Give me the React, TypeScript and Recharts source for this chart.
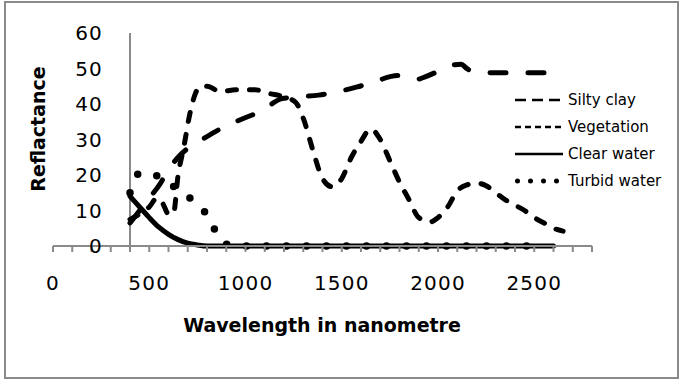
import { Label, Legend, Line, LineChart, ReferenceLine, XAxis, YAxis } from "recharts";

// wavelengths (nm) and reflectance (%)
const siltyClayNm = [400, 450, 500, 550, 600, 650, 700, 760, 870, 970, 1080, 1190, 1270, 1380, 1480, 1580, 1680, 1790, 1840, 1880, 1930, 1980, 2030, 2080, 2120, 2150, 2190, 2300, 2400, 2500, 2590];
const siltyClayRefl = [6.5, 10, 13.5, 17, 21.5, 25, 27.5, 29.5, 33, 35.5, 38, 41.5, 42, 42.5, 43.5, 44.8, 46.5, 48, 47.3, 46.8, 47.6, 48.7, 50, 51, 51.2, 50, 49, 48.8, 48.8, 48.8, 48.8];

const vegetationNm = [400, 450, 500, 540, 570, 600, 625, 650, 680, 710, 740, 770, 800, 870, 950, 1050, 1120, 1200, 1260, 1300, 1350, 1400, 1450, 1500, 1550, 1600, 1650, 1700, 1750, 1800, 1850, 1900, 1960, 2000, 2050, 2100, 2150, 2200, 2250, 2300, 2350, 2400, 2450, 2500, 2550, 2600, 2650];
const vegetationRefl = [7.5, 9, 11, 13.5, 12, 9, 9, 20, 28, 37, 43, 45, 45, 43.5, 44, 44, 43, 42, 40.5, 36, 27, 19, 16.7, 19, 25, 29.5, 33, 30, 24, 18, 13, 8, 6.8, 8, 11, 15.5, 17.2, 17.7, 17, 15, 13, 11.5, 10, 8, 6.5, 5, 4.2];

const clearWaterNm = [400, 450, 500, 550, 600, 650, 700, 750, 800, 900, 1200, 1600, 2000, 2400, 2600];
const clearWaterRefl = [14, 11, 8, 5.3, 3.3, 1.8, 0.8, 0.3, 0, 0, 0, 0, 0, 0, 0];

const turbidWaterNm = [400, 450, 500, 600, 650, 700, 780, 800, 850, 900, 950, 1500, 2000, 2550];
const turbidWaterRefl = [15, 20.5, 20.5, 17.5, 16, 14, 10, 9, 3.6, 0.5, 0, 0, 0, 0];

const xTicks = [0, 100, 200, 300, 400, 500, 600, 700, 800, 900, 1000, 1100, 1200, 1300, 1400, 1500, 1600, 1700, 1800, 1900, 2000, 2100, 2200, 2300, 2400, 2500, 2600, 2700, 2800];
const xTickLabels = [0, 500, 1000, 1500, 2000, 2500];
const yTicks = [0, 10, 20, 30, 40, 50, 60];

const toPoints = (nm: number[], refl: number[]) => nm.map((x, i) => ({ x, y: refl[i] }));

const series = [
  { name: "Silty clay", data: toPoints(siltyClayNm, siltyClayRefl), dash: "16 22", legendDash: "11 6", width: 5 },
  { name: "Vegetation", data: toPoints(vegetationNm, vegetationRefl), dash: "9 13", legendDash: "6 4", width: 5 },
  { name: "Clear water", data: toPoints(clearWaterNm, clearWaterRefl), dash: undefined, legendDash: undefined, width: 5 },
  { name: "Turbid water", data: toPoints(turbidWaterNm, turbidWaterRefl), dash: "0 20", legendDash: "0 13", width: 7.5 },
];

const AXIS_GRAY = "#8a8a8a";
const TICK_FONT = { fontFamily: "DejaVu Sans", fontSize: 20, letterSpacing: 1.2, fill: "#000" };

function XTick({ x, payload }: any) {
  if (!xTickLabels.includes(payload.value)) return <g />;
  return (
    <text x={x} y={283} textAnchor="middle" dominantBaseline="central" {...TICK_FONT}>
      {payload.value}
    </text>
  );
}

function YTick({ y, payload }: any) {
  return (
    <text x={103} y={y} textAnchor="end" dominantBaseline="central" {...TICK_FONT}>
      {payload.value}
    </text>
  );
}

function LegendBox() {
  return (
    <div style={{ fontFamily: "DejaVu Sans", fontSize: 15, color: "#000" }}>
      {series.map((s) => (
        <div key={s.name} style={{ display: "flex", alignItems: "center", height: 27 }}>
          <svg width={53} height={10} style={{ display: "block" }}>
            <line
              x1={s.name === "Turbid water" ? 2.5 : 0}
              x2={48}
              y1={5}
              y2={5}
              stroke="#000"
              strokeWidth={s.name === "Turbid water" ? 5 : 2.5}
              strokeDasharray={s.legendDash}
              strokeLinecap={s.name === "Turbid water" ? "round" : "butt"}
            />
          </svg>
          <span>{s.name}</span>
        </div>
      ))}
    </div>
  );
}

export default function App() {
  return (
    <div style={{ position: "absolute", left: 0, top: 0, width: 687, height: 383, background: "#fff" }}>
      <div
        style={{
          position: "absolute",
          left: 4,
          top: 1,
          width: 675,
          height: 378,
          boxSizing: "border-box",
          border: `2px solid ${AXIS_GRAY}`,
        }}
      />
      <LineChart width={687} height={383} margin={{ top: 33, right: 95, bottom: 107, left: 43 }}>
        <XAxis
          type="number"
          dataKey="x"
          domain={[0, 2800]}
          ticks={xTicks}
          interval={0}
          height={30}
          allowDataOverflow
          axisLine={{ stroke: AXIS_GRAY, strokeWidth: 2 }}
          tickLine={{ stroke: AXIS_GRAY, strokeWidth: 2 }}
          tickSize={6}
          tick={<XTick />}
        >
          <Label
            content={() => (
              <text x={322} y={325} textAnchor="middle" dominantBaseline="central" fontFamily="DejaVu Sans" fontWeight="bold" fontSize={19} fill="#000">
                Wavelength in nanometre
              </text>
            )}
          />
        </XAxis>
        <YAxis
          type="number"
          domain={[0, 60]}
          ticks={yTicks}
          interval={0}
          width={10}
          axisLine={false}
          tickLine={false}
          tick={<YTick />}
        >
          <Label
            content={() => (
              <text
                x={38}
                y={129}
                textAnchor="middle"
                dominantBaseline="central"
                transform="rotate(-90 38 129)"
                fontFamily="DejaVu Sans"
                fontWeight="bold"
                fontSize={19}
                fill="#000"
              >
                Reflactance
              </text>
            )}
          />
        </YAxis>
        <ReferenceLine x={400} stroke={AXIS_GRAY} strokeWidth={2} />
        {series.map((s) => (
          <Line
            key={s.name}
            data={s.data}
            dataKey="y"
            name={s.name}
            type="monotone"
            stroke="#000"
            strokeWidth={s.width}
            strokeDasharray={s.dash}
            strokeLinecap="round"
            dot={false}
            activeDot={false}
            isAnimationActive={false}
          />
        ))}
        <Legend
          layout="horizontal"
          align="center"
          verticalAlign="middle"
          content={() => <LegendBox />}
          wrapperStyle={{ position: "absolute", left: 515, top: 86, width: 170, bottom: "auto", right: "auto" }}
        />
      </LineChart>
    </div>
  );
}
